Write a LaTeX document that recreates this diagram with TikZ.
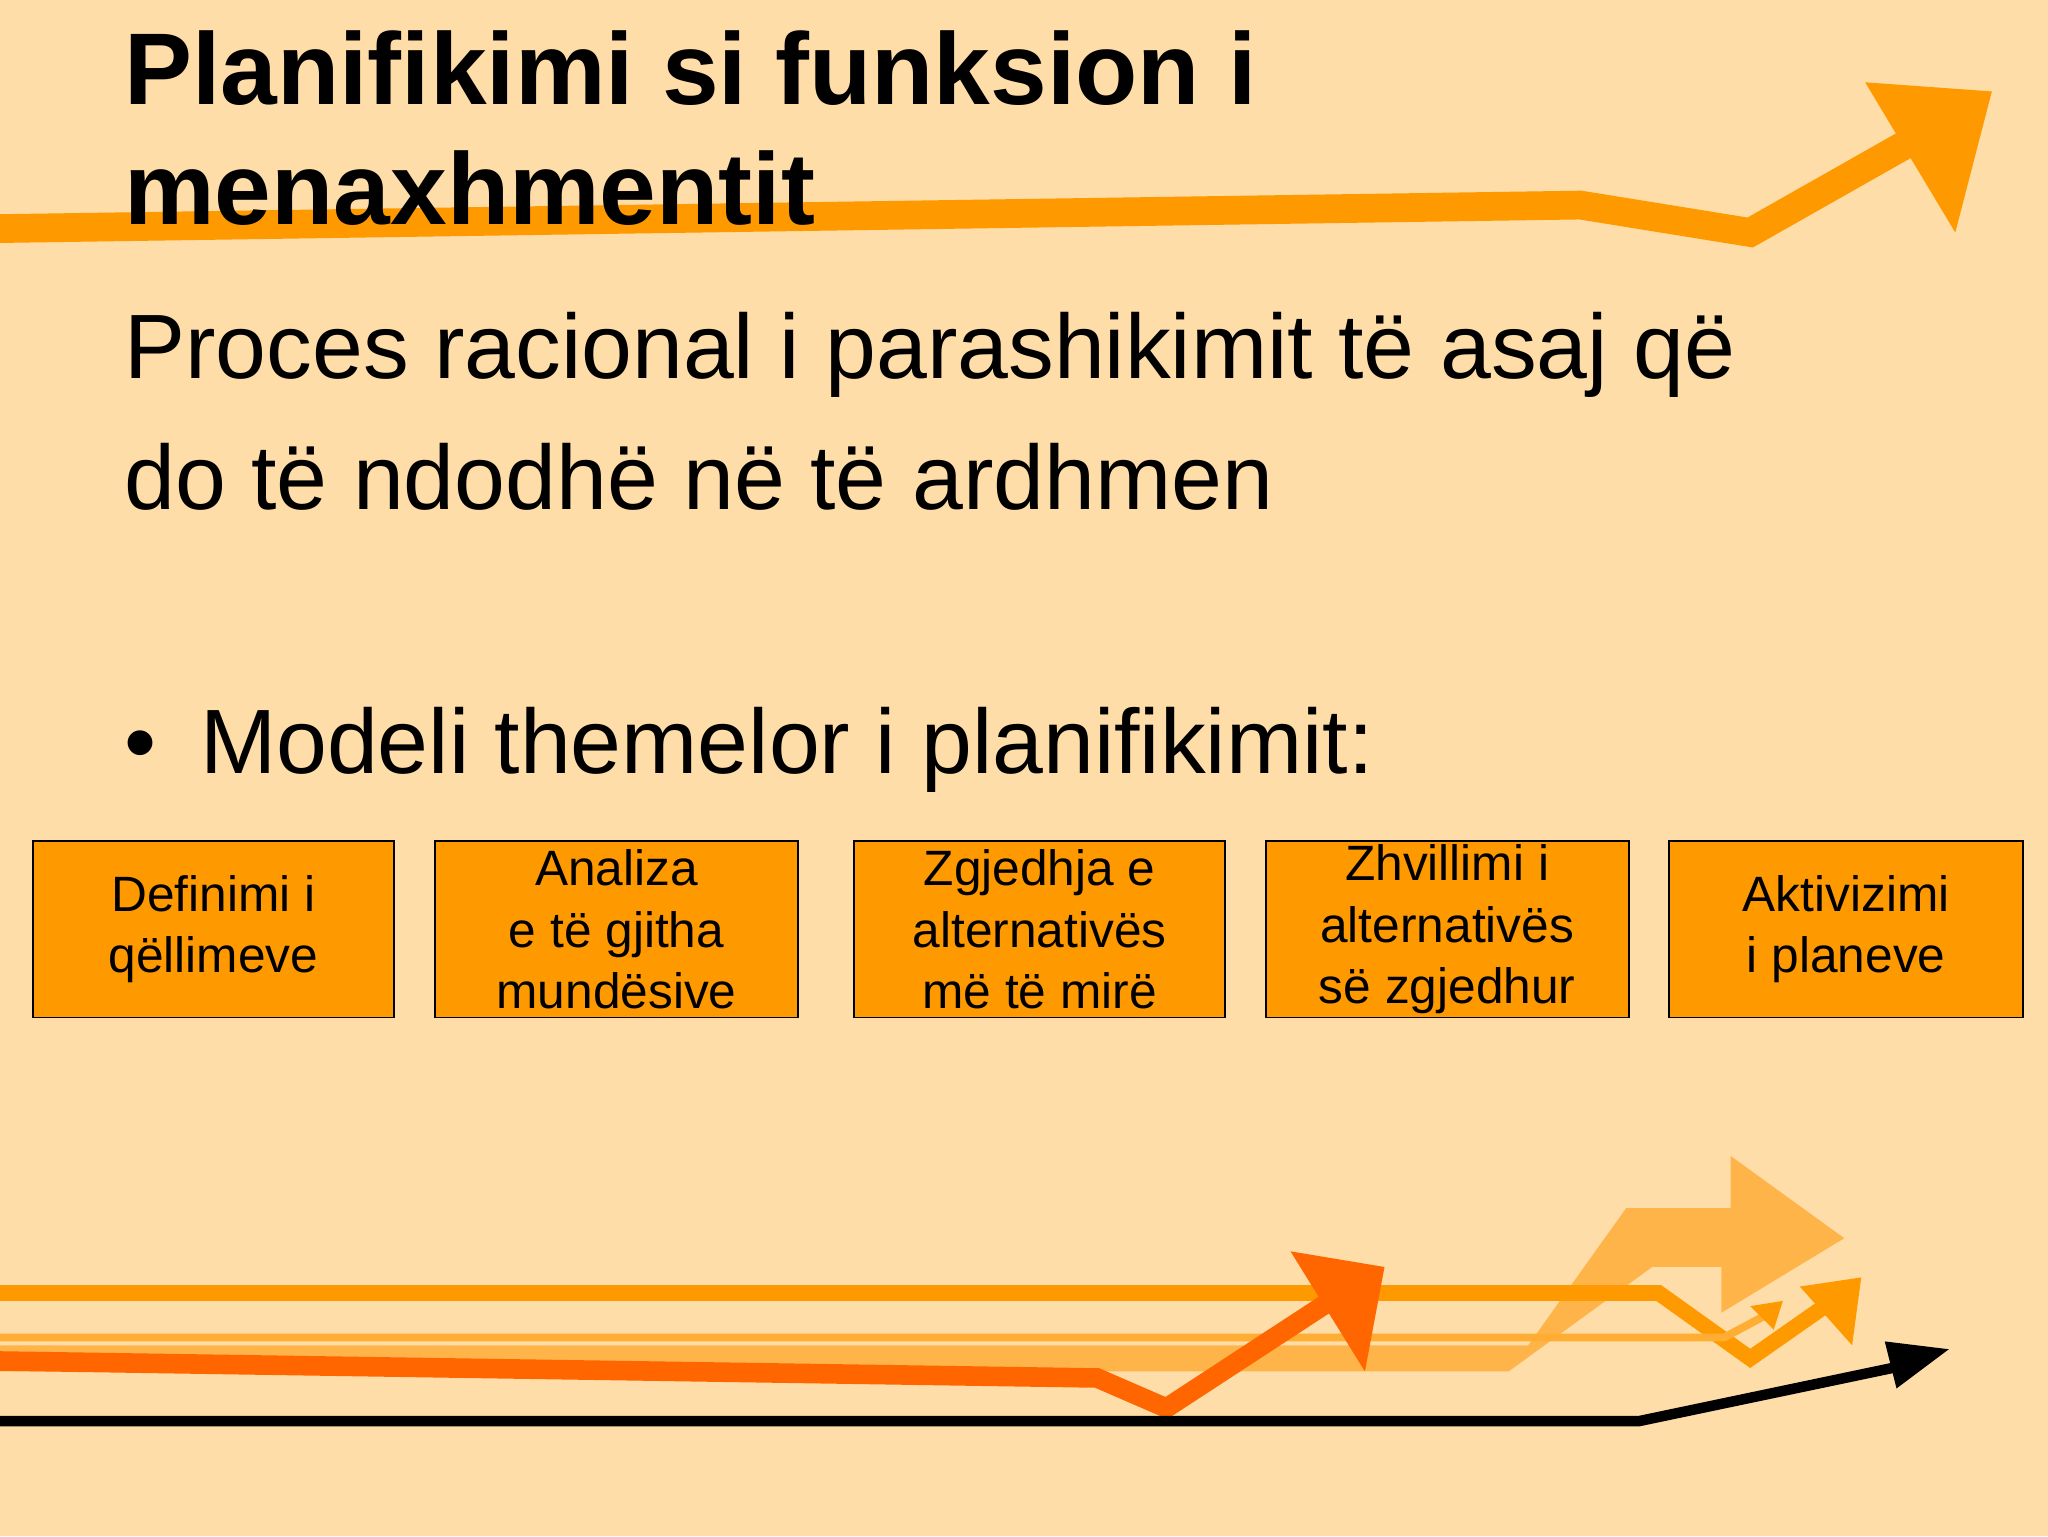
\documentclass[tikz,border=0pt]{standalone}
\usepackage{fontspec}
\setmainfont{Liberation Sans}
\definecolor{bg}{HTML}{FFDDA8}
\definecolor{org}{HTML}{FF9900}
\definecolor{dorg}{HTML}{FF6600}
\definecolor{lorg}{HTML}{FFAA33}
\begin{document}
\begin{tikzpicture}[x=1pt,y=-1pt,
  box/.style={draw=black,line width=1.5pt,fill=org,align=center,font=\fontsize{38}{47}\selectfont,inner sep=0pt},
  txt/.style={anchor=base west,inner sep=0pt}]
\fill[bg] (0,0) rectangle (1568,1176);
\useasboundingbox (0,0) rectangle (1568,1176);
% top arrow
\draw[org,line width=22pt,line join=miter] (0,175) -- (1210,157) -- (1340,178) -- (1460,110);
\fill[org] (1525,70) -- (1428,63) -- (1497,178) -- cycle;
% bottom arrows
\fill[lorg,opacity=0.8] (0,1030) -- (1170,1030) -- (1245,925) -- (1325,925) -- (1325,885) -- (1412,948) -- (1318,1005) -- (1318,970) -- (1265,970) -- (1155,1050) -- (0,1050) -- cycle;
\draw[org,line width=12pt] (0,990) -- (1270,990) -- (1340,1040) -- (1400,998);
\fill[org] (1425,978) -- (1378,985) -- (1418,1030) -- cycle;
\draw[org!80,line width=6pt] (0,1024) -- (1320,1024) -- (1350,1008);
\fill[org] (1365,996) -- (1340,1000) -- (1358,1018) -- cycle;
\draw[dorg,line width=15pt] (0,1042) -- (840,1055) -- (893,1078) -- (1020,995);
\fill[dorg] (1060,970) -- (988,958) -- (1045,1050) -- cycle;
\draw[black,line width=8pt] (0,1088) -- (1255,1088) -- (1460,1045);
\fill[black] (1492,1033) -- (1443,1027) -- (1452,1063) -- cycle;
% title
\node[txt,font=\fontsize{78}{90}\selectfont\bfseries] (t1) at (95,80) {Planifikimi si funksion i};
\node[txt,font=\fontsize{78}{90}\selectfont\bfseries] (t2) at (95,172) {menaxhmentit};
\node[txt,font=\fontsize{70}{80}\selectfont] (b1) at (95,290) {Proces racional i parashikimit të asaj që};
\node[txt,font=\fontsize{70}{80}\selectfont] (b2) at (95,390) {do të ndodhë në të ardhmen};
\node[txt,font=\fontsize{70}{80}\selectfont] (bul) at (95,592) {•};
\node[txt,font=\fontsize{70}{80}\selectfont] (b3) at (153,592) {Modeli themelor i planifikimit:};
% boxes
\node[box,minimum width=277pt,minimum height=135pt] (k1) at (163.5,711.5) {Definimi i\\qëllimeve};
\node[box,minimum width=278pt,minimum height=135pt] (k2) at (472,711.5) {Analiza\\e të gjitha\\mundësive};
\node[box,minimum width=284pt,minimum height=135pt] (k3) at (796,711.5) {Zgjedhja e\\alternativës\\më të mirë};
\node[box,minimum width=278pt,minimum height=135pt] (k4) at (1108,711.5) {Zhvillimi i\\alternativës\\së zgjedhur};
\node[box,minimum width=271pt,minimum height=135pt] (k5) at (1413.5,711.5) {Aktivizimi\\i planeve};
\end{tikzpicture}
\end{document}
